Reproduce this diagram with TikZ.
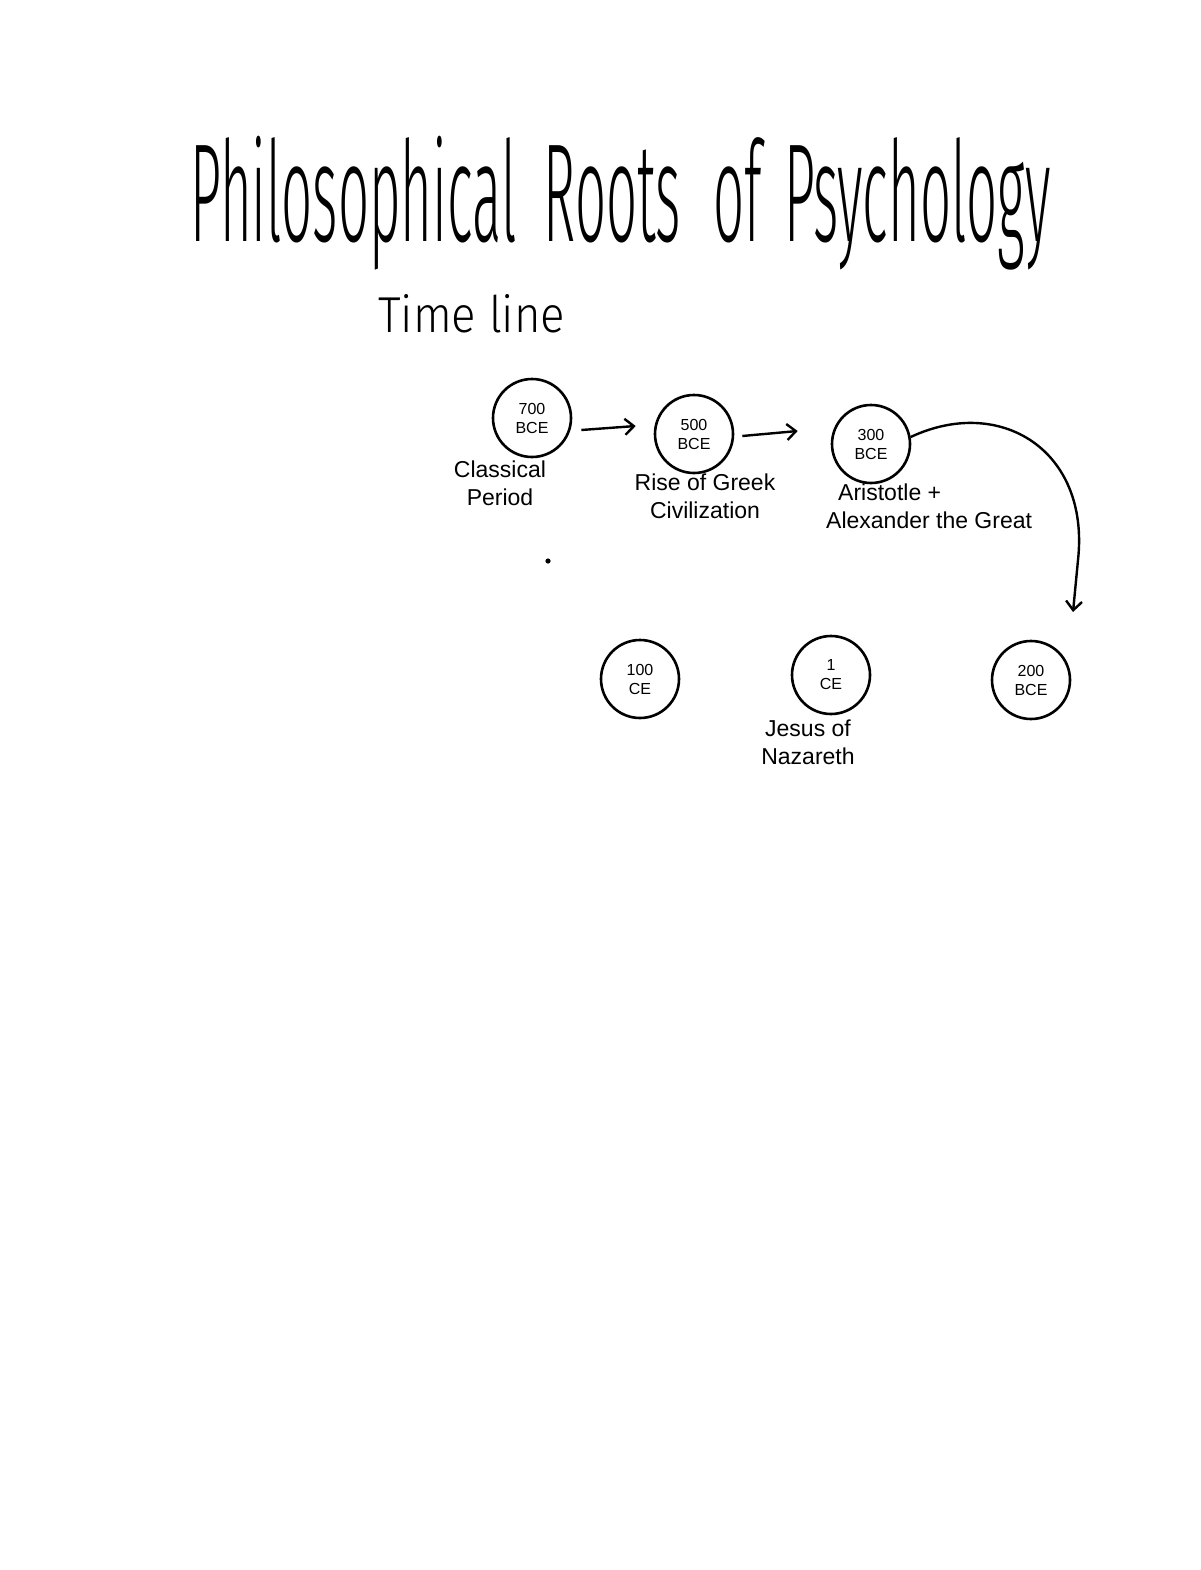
\documentclass[tikz,border=0pt]{standalone}
\usepackage{fontspec}
\setmainfont{Liberation Sans}
\newfontfamily\thinfont{Fira Sans Light}
\usetikzlibrary{arrows.meta,calc}
\tikzset{
  yearcircle/.style={draw, circle, line width=2.6pt, minimum size=78pt, inner sep=0pt, align=center, font=\fontsize{16}{19}\selectfont},
  lbl/.style={inner sep=0pt, align=center, font=\fontsize{23}{28}\selectfont},
  conn/.style={line width=2.4pt, -{Straight Barb[length=9pt,width=16pt,line width=2.4pt]}}
}
\begin{document}
\begin{tikzpicture}[x=1pt,y=-1pt]
\useasboundingbox (0,0) rectangle (1200,1570);
\fill[white] (0,0) rectangle (1200,1570);
% title
\node[inner sep=0pt, anchor=north west] (title) at (190,136)
  {\resizebox*{860pt}{134pt}{\thinfont Philosophical\hspace{0.5em}Roots\hspace{0.6em}of\hspace{0.4em}Psychology}};
\node[inner sep=0pt, anchor=north west] (tl) at (378,294)
  {\resizebox{187pt}{38pt}{\thinfont Time line}};
% circles
\node[yearcircle] (c700) at (532,418) {700\\BCE};
\node[yearcircle] (c500) at (694,434) {500\\BCE};
\node[yearcircle] (c300) at (871,444) {300\\BCE};
\node[yearcircle] (c200) at (1031,680) {200\\BCE};
\node[yearcircle] (c1) at (831,675) {1\\CE};
\node[yearcircle] (c100) at (640,679) {100\\CE};
% labels
\node[lbl] (l700) at (500,483) {Classical\\Period};
\node[lbl] (l500) at (705,496) {Rise of Greek\\Civilization};
\node[lbl, anchor=north west, align=left] (l300) at (826,484) {\hspace*{12pt}Aristotle +\\Alexander the Great};
\node[lbl] (l1) at (808,742) {Jesus of\\Nazareth};
% connectors
\draw[conn] ($(c700.east)+(9,12)$) -- ($(c500.west)+(-18,-8)$);
\draw[conn] ($(c500.east)+(8,2)$) -- ($(c300.west)+(-33,-13)$);
\coordinate (bend) at (1078,560);
\coordinate (tip) at (1073,612);
\draw[conn] (c300.10) .. controls (1000,395) and (1090,450) .. (bend) -- (tip);
% stray mark
\fill (548,561) circle (2.6);
\end{tikzpicture}
\end{document}
